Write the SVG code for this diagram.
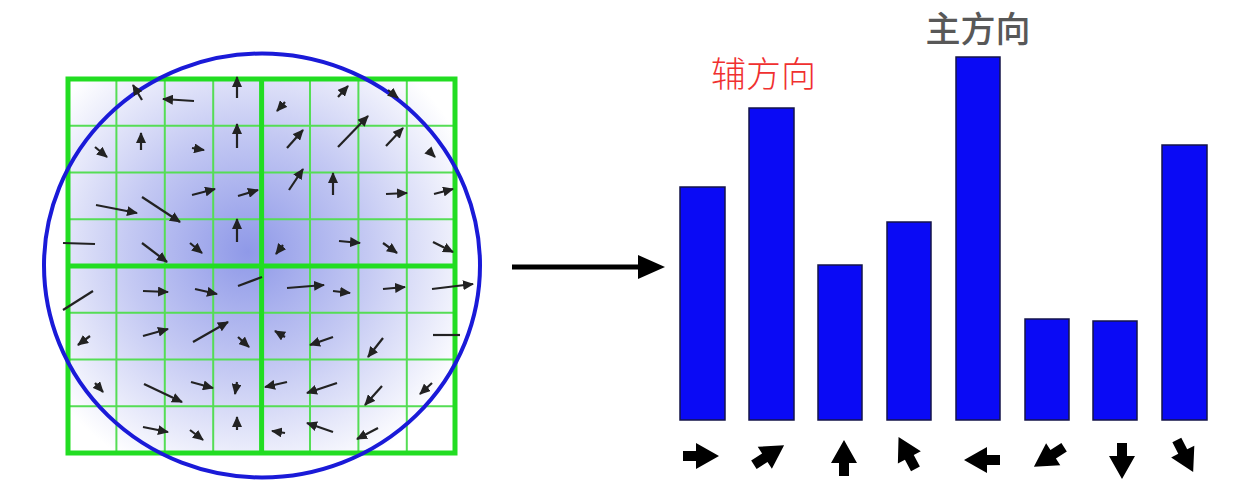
<svg xmlns="http://www.w3.org/2000/svg" width="1253" height="494" viewBox="0 0 1253 494">
<style>
.thin{stroke:#55dd55;stroke-width:2;fill:none}
.thick{stroke:#22dd22;stroke-width:5;fill:none}
.sa{stroke:#222;stroke-width:2.2;fill:none;marker-end:url(#sh)}
.sl{stroke:#222;stroke-width:2.2;fill:none}
.bar{fill:#0a0af5;stroke:#14144a;stroke-width:1.5}
.fat{fill:#000}
</style>
<defs>
<radialGradient id="bg" cx="248" cy="252" r="240" gradientUnits="userSpaceOnUse">
<stop offset="0" stop-color="#8f99e8"/>
<stop offset="0.5" stop-color="#c4c9f3"/>
<stop offset="1" stop-color="#ffffff"/>
</radialGradient>
<marker id="sh" markerUnits="userSpaceOnUse" markerWidth="11" markerHeight="10" refX="10" refY="5" orient="auto">
<path d="M0,0 L11,5 L0,10 Z" fill="#222"/>
</marker>
<path id="fa" d="M-18,-5 L-5,-5 L-5,-13 L18,0 L-5,13 L-5,5 L-18,5 Z"/>
</defs>
<rect width="1253" height="494" fill="#fff"/>

<g id="descriptor">
<rect x="68" y="79" width="387" height="374" fill="url(#bg)"/>
<g class="thin">
<line x1="116.4" y1="79" x2="116.4" y2="453"/>
<line x1="164.8" y1="79" x2="164.8" y2="453"/>
<line x1="213.2" y1="79" x2="213.2" y2="453"/>
<line x1="310" y1="79" x2="310" y2="453"/>
<line x1="358.4" y1="79" x2="358.4" y2="453"/>
<line x1="406.8" y1="79" x2="406.8" y2="453"/>
<line x1="68" y1="125.75" x2="455" y2="125.75"/>
<line x1="68" y1="172.5" x2="455" y2="172.5"/>
<line x1="68" y1="219.25" x2="455" y2="219.25"/>
<line x1="68" y1="312.75" x2="455" y2="312.75"/>
<line x1="68" y1="359.5" x2="455" y2="359.5"/>
<line x1="68" y1="406.25" x2="455" y2="406.25"/>
</g>
<g class="thick">
<rect x="68" y="79" width="387" height="374"/>
<line x1="261.6" y1="79" x2="261.6" y2="453"/>
<line x1="68" y1="266" x2="455" y2="266"/>
</g>
<ellipse cx="262" cy="265.5" rx="218" ry="212" fill="none" stroke="#1a1ad8" stroke-width="4"/>
<g id="gradients">
<line class="sa" x1="142" y1="100" x2="133" y2="85"/>
<line class="sa" x1="194" y1="101" x2="163" y2="99"/>
<line class="sa" x1="237" y1="98" x2="237" y2="77"/>
<line class="sa" x1="95" y1="147" x2="107" y2="157"/>
<line class="sa" x1="141" y1="150" x2="141" y2="133"/>
<line class="sa" x1="192" y1="148" x2="204" y2="150"/>
<line class="sa" x1="237" y1="148" x2="237" y2="124"/>
<line class="sa" x1="192" y1="195" x2="215" y2="189"/>
<line class="sa" x1="238" y1="196" x2="258" y2="190"/>
<line class="sa" x1="96" y1="205" x2="137" y2="213"/>
<line class="sa" x1="142" y1="197" x2="180" y2="222"/>
<line class="sa" x1="237" y1="242" x2="237" y2="219"/>
<line class="sl" x1="63" y1="243" x2="95" y2="244"/>
<line class="sa" x1="142" y1="243" x2="167" y2="262"/>
<line class="sa" x1="190" y1="243" x2="202" y2="253"/>
<line class="sa" x1="285" y1="102" x2="277" y2="111"/>
<line class="sa" x1="338" y1="97" x2="348" y2="86"/>
<line class="sa" x1="388" y1="90" x2="398" y2="98"/>
<line class="sa" x1="287" y1="148" x2="303" y2="130"/>
<line class="sa" x1="338" y1="147" x2="368" y2="116"/>
<line class="sa" x1="386" y1="146" x2="403" y2="128"/>
<line class="sa" x1="428" y1="150" x2="435" y2="157"/>
<line class="sa" x1="289" y1="190" x2="303" y2="169"/>
<line class="sa" x1="333" y1="195" x2="333" y2="173"/>
<line class="sa" x1="386" y1="194" x2="407" y2="193"/>
<line class="sa" x1="434" y1="194" x2="453" y2="189"/>
<line class="sa" x1="283" y1="245" x2="276" y2="254"/>
<line class="sa" x1="339" y1="241" x2="360" y2="243"/>
<line class="sa" x1="383" y1="243" x2="397" y2="253"/>
<line class="sa" x1="433" y1="242" x2="453" y2="252"/>
<line class="sl" x1="93" y1="291" x2="63" y2="310"/>
<line class="sa" x1="143" y1="291" x2="168" y2="292"/>
<line class="sa" x1="195" y1="289" x2="217" y2="294"/>
<line class="sl" x1="238" y1="286" x2="262" y2="277"/>
<line class="sa" x1="90" y1="336" x2="78" y2="345"/>
<line class="sa" x1="143" y1="336" x2="168" y2="329"/>
<line class="sa" x1="193" y1="342" x2="228" y2="322"/>
<line class="sa" x1="238" y1="337" x2="249" y2="347"/>
<line class="sa" x1="95" y1="383" x2="103" y2="392"/>
<line class="sa" x1="144" y1="384" x2="182" y2="402"/>
<line class="sa" x1="191" y1="382" x2="213" y2="388"/>
<line class="sa" x1="237" y1="382" x2="235" y2="394"/>
<line class="sa" x1="143" y1="427" x2="168" y2="432"/>
<line class="sa" x1="190" y1="430" x2="203" y2="440"/>
<line class="sa" x1="237" y1="430" x2="237" y2="417"/>
<line class="sa" x1="287" y1="288" x2="324" y2="285"/>
<line class="sa" x1="333" y1="291" x2="350" y2="293"/>
<line class="sa" x1="383" y1="289" x2="405" y2="287"/>
<line class="sa" x1="432" y1="289" x2="473" y2="284"/>
<line class="sa" x1="285" y1="337" x2="275" y2="331"/>
<line class="sa" x1="333" y1="337" x2="310" y2="345"/>
<line class="sa" x1="383" y1="338" x2="368" y2="357"/>
<line class="sl" x1="433" y1="335" x2="460" y2="335"/>
<line class="sa" x1="287" y1="382" x2="265" y2="387"/>
<line class="sa" x1="337" y1="383" x2="307" y2="393"/>
<line class="sa" x1="382" y1="386" x2="365" y2="405"/>
<line class="sa" x1="432" y1="383" x2="420" y2="394"/>
<line class="sa" x1="285" y1="433" x2="272" y2="431"/>
<line class="sa" x1="333" y1="432" x2="307" y2="423"/>
<line class="sa" x1="378" y1="428" x2="357" y2="439"/>
</g>
</g>

<g id="connectors">
<line x1="512" y1="267" x2="640" y2="267" stroke="#000" stroke-width="5"/>
<polygon points="638,255 665,267 638,279" fill="#000"/>
</g>

<g id="histogram">
<g id="bar1"><rect class="bar" x="680" y="187" width="45" height="233"/><use href="#fa" class="fat" transform="translate(701,456)"/></g>
<g id="bar2"><rect class="bar" x="749" y="108" width="45" height="312"/><use href="#fa" class="fat" transform="translate(769,455) rotate(-33)"/></g>
<g id="bar3"><rect class="bar" x="818" y="265" width="44" height="155"/><use href="#fa" class="fat" transform="translate(844,458) rotate(-90)"/></g>
<g id="bar4"><rect class="bar" x="887" y="222" width="44" height="198"/><use href="#fa" class="fat" transform="translate(907,453) rotate(-118)"/></g>
<g id="bar5"><rect class="bar" x="956" y="57" width="44" height="363"/><use href="#fa" class="fat" transform="translate(982,460) rotate(180)"/></g>
<g id="bar6"><rect class="bar" x="1025" y="319" width="44" height="101"/><use href="#fa" class="fat" transform="translate(1049,457) rotate(147)"/></g>
<g id="bar7"><rect class="bar" x="1093" y="321" width="44" height="99"/><use href="#fa" class="fat" transform="translate(1122,461) rotate(90)"/></g>
<g id="bar8"><rect class="bar" x="1162" y="145" width="45" height="275"/><use href="#fa" class="fat" transform="translate(1185,456) rotate(63)"/></g>
</g>

<g id="label-main"><text x="978" y="42" text-anchor="middle" font-family="'Noto Sans CJK SC', sans-serif" font-size="35" font-weight="500" fill="#585858">主方向</text></g>
<g id="label-aux"><text x="711" y="87" font-family="'Noto Sans CJK SC', sans-serif" font-size="35" font-weight="300" fill="#f03030">辅方向</text></g>
</svg>
